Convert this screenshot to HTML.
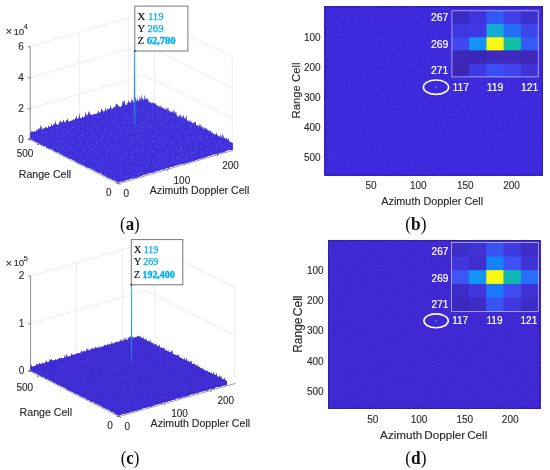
<!DOCTYPE html>
<html><head><meta charset="utf-8"><title>Figure</title>
<style>
html,body{margin:0;padding:0;background:#fff}
svg{display:block}
.tk{font-family:"Liberation Sans",Arial,sans-serif;font-size:10px;fill:#2b2b2b;stroke:#2b2b2b;stroke-width:0.12px}
.lb{font-family:"Liberation Sans",Arial,sans-serif;font-size:10.6px;fill:#2b2b2b;stroke:#2b2b2b;stroke-width:0.15px}
.dt{font-family:"Liberation Serif","DejaVu Serif",serif;fill:#111;stroke:#111;stroke-width:0.2px}
.cap{font-family:"Liberation Serif","DejaVu Serif",serif;font-size:19px;fill:#111}
</style></head><body>
<svg width="550" height="470" viewBox="0 0 550 470">
<defs>
<filter id="dota" x="0" y="0" width="100%" height="100%" color-interpolation-filters="sRGB"><feTurbulence type="fractalNoise" baseFrequency="0.8" numOctaves="1" seed="21"/><feColorMatrix type="matrix" values="0 0 0 0 0.43  0 0 0 0 0.41  0 0 0 0 0.91  3.2 0 0 0 -1.824"/></filter>
<filter id="dotc" x="0" y="0" width="100%" height="100%" color-interpolation-filters="sRGB"><feTurbulence type="fractalNoise" baseFrequency="0.8" numOctaves="1" seed="23"/><feColorMatrix type="matrix" values="0 0 0 0 0.38  0 0 0 0 0.34  0 0 0 0 0.89  2.5 0 0 0 -1.550"/></filter>
<filter id="spka" x="0" y="0" width="100%" height="100%" color-interpolation-filters="sRGB"><feTurbulence type="fractalNoise" baseFrequency="0.6" numOctaves="2" seed="3"/><feColorMatrix type="matrix" values="0.12 0 0 0 0.1900  0.15 0 0 0 0.1100  0.06 0 0 0 0.8300  0 0 0 0 1"/></filter>
<filter id="spkc" x="0" y="0" width="100%" height="100%" color-interpolation-filters="sRGB"><feTurbulence type="fractalNoise" baseFrequency="0.6" numOctaves="2" seed="5"/><feColorMatrix type="matrix" values="0.1 0 0 0 0.1980  0.12 0 0 0 0.1120  0.06 0 0 0 0.8000  0 0 0 0 1"/></filter>
<filter id="spkb" x="0" y="0" width="100%" height="100%" color-interpolation-filters="sRGB"><feTurbulence type="fractalNoise" baseFrequency="0.65" numOctaves="2" seed="11"/><feColorMatrix type="matrix" values="0.12 0 0 0 0.1800  0.14 0 0 0 0.0950  0.08 0 0 0 0.8220  0 0 0 0 1"/></filter>
<filter id="spkd" x="0" y="0" width="100%" height="100%" color-interpolation-filters="sRGB"><feTurbulence type="fractalNoise" baseFrequency="0.65" numOctaves="2" seed="13"/><feColorMatrix type="matrix" values="0.06 0 0 0 0.2200  0.08 0 0 0 0.1200  0.05 0 0 0 0.8000  0 0 0 0 1"/></filter>
</defs>
<rect width="550" height="470" fill="#fff"/>
<g id="panel-a">
<polyline points="30.2,139.4 143.9,106.2 232.3,149.7" fill="none" stroke="#e9e9e9" stroke-width="0.8"/>
<polyline points="30.2,108.5 143.9,75.3 232.3,118.8" fill="none" stroke="#e9e9e9" stroke-width="0.8"/>
<polyline points="30.2,77.6 143.9,44.4 232.3,87.9" fill="none" stroke="#e9e9e9" stroke-width="0.8"/>
<polyline points="30.2,46.5 143.9,13.3 232.3,56.8" fill="none" stroke="#e9e9e9" stroke-width="0.8"/>
<line x1="79.21" y1="125.09" x2="79.21" y2="32.19" stroke="#e9e9e9" stroke-width="0.8"/>
<line x1="128.22" y1="110.78" x2="128.22" y2="17.88" stroke="#e9e9e9" stroke-width="0.8"/>
<line x1="154.48" y1="111.41" x2="154.48" y2="18.51" stroke="#e9e9e9" stroke-width="0.8"/>
<line x1="232.3" y1="149.7" x2="232.3" y2="56.8" stroke="#e9e9e9" stroke-width="0.8"/>
<line x1="30.2" y1="139.4" x2="30.2" y2="46.5" stroke="#808080" stroke-width="0.9"/>
<line x1="27.8" y1="139.5" x2="30.2" y2="139.9" stroke="#6e6e6e" stroke-width="0.8"/>
<text x="23.8" y="142.9" text-anchor="end" class="tk">0</text>
<line x1="27.8" y1="108.6" x2="30.2" y2="109" stroke="#6e6e6e" stroke-width="0.8"/>
<text x="23.8" y="112" text-anchor="end" class="tk">2</text>
<line x1="27.8" y1="77.7" x2="30.2" y2="78.1" stroke="#6e6e6e" stroke-width="0.8"/>
<text x="23.8" y="81.1" text-anchor="end" class="tk">4</text>
<line x1="27.8" y1="46.6" x2="30.2" y2="47" stroke="#6e6e6e" stroke-width="0.8"/>
<text x="23.8" y="50" text-anchor="end" class="tk">6</text>
<text x="5.6" y="34.5" class="tk" style="font-size:9.8px;letter-spacing:-0.35px"><tspan font-size="11.5" dy="0.4">×</tspan><tspan dx="1.6" dy="-0.4">10</tspan><tspan dx="-0.3" dy="-5.1" font-size="7.8">4</tspan></text>
<polyline points="29.2,139.2 118.6,183.7 233.1,150.3" fill="none" stroke="#8c8c8c" stroke-width="0.85"/>
<line x1="38.96" y1="143.71" x2="36.76" y2="144.81" stroke="#5a5a5a" stroke-width="0.9"/>
<line x1="168.47" y1="168.34" x2="167.17" y2="170.74" stroke="#5a5a5a" stroke-width="0.9"/>
<line x1="218.34" y1="153.78" x2="217.04" y2="156.18" stroke="#5a5a5a" stroke-width="0.9"/>
<line x1="118.6" y1="182.9" x2="116.2" y2="183.9" stroke="#5a5a5a" stroke-width="0.9"/>
<line x1="118.6" y1="182.9" x2="120.2" y2="184.9" stroke="#5a5a5a" stroke-width="0.9"/>
<line x1="30.2" y1="139.4" x2="28" y2="138.6" stroke="#5a5a5a" stroke-width="0.9"/>
<clipPath id="cpa"><polygon points="30.2,139.4 30.2,132.66 30.7,133.16 31.21,130.42 31.71,132.9 32.21,130.99 32.71,132.33 33.22,132.31 33.72,131.74 34.22,132.02 34.72,131.62 35.23,131.71 35.73,131.72 36.24,130.47 36.74,129.75 37.24,131.08 37.74,131.05 38.25,128.55 38.75,128.57 39.26,128.65 39.76,130.22 40.26,124.19 40.76,130.26 41.27,125.39 41.77,129.8 42.27,129.58 42.77,129.65 43.28,128.9 43.78,127.74 44.29,128.94 44.79,128.31 45.29,126.4 45.79,128.5 46.3,126.8 46.8,128.49 47.31,128.19 47.81,128.13 48.31,125.17 48.81,127.52 49.32,127.12 49.82,126.83 50.32,126.2 50.82,127.14 51.33,123.17 51.83,125.87 52.34,126.45 52.84,125.98 53.34,124.89 53.84,124.53 54.35,122.95 54.85,125.98 55.35,119.73 55.85,125.83 56.36,124.62 56.86,124.17 57.37,125.17 57.87,124.74 58.37,124.97 58.87,123.92 59.38,121.13 59.88,123.93 60.39,119.61 60.89,124.19 61.39,121.21 61.89,123.28 62.4,121.87 62.9,123.34 63.4,119.14 63.9,121.25 64.41,121.97 64.91,122.17 65.42,122.9 65.92,121.74 66.42,120.17 66.92,120.1 67.43,118.17 67.93,122.17 68.44,121.25 68.94,120.98 69.44,121.74 69.94,121.27 70.45,121.32 70.95,121.42 71.45,121.14 71.95,119.72 72.46,120.79 72.96,120.74 73.47,119.76 73.97,118.68 74.47,120.25 74.97,119.83 75.48,118.26 75.98,118.03 76.48,115.56 76.98,117.83 77.49,119.01 77.99,119.02 78.5,118.43 79,117.14 79.5,112.98 80,118.76 80.51,118.37 81.01,118.41 81.52,117.96 82.02,117.69 82.52,115.92 83.02,117.79 83.53,117.63 84.03,117.25 84.53,116.62 85.03,116.6 85.54,111.28 86.04,115.91 86.55,115.26 87.05,115.86 87.55,113.75 88.05,116.45 88.56,111.09 89.06,114.68 89.57,111.1 90.07,114.31 90.57,114.75 91.07,115.23 91.58,115.23 92.08,114.34 92.58,114.97 93.08,114.98 93.59,114.49 94.09,114.64 94.6,113.8 95.1,114.39 95.6,114.1 96.1,114.06 96.61,113.77 97.11,113.53 97.62,113.51 98.12,111.61 98.62,111.03 99.12,113.18 99.63,112.62 100.13,112.68 100.63,111.94 101.13,112.61 101.64,107.88 102.14,109.82 102.65,110.85 103.15,111.53 103.65,111.72 104.15,111.74 104.66,110.85 105.16,111.32 105.66,106.93 106.16,111.12 106.67,110.87 107.17,108.58 107.68,109.01 108.18,110.54 108.68,108.61 109.18,110.28 109.69,108.42 110.19,107.55 110.7,105.06 111.2,108.54 111.7,109.07 112.2,109.12 112.71,108.98 113.21,107.66 113.71,107.21 114.21,107.34 114.72,107.96 115.22,108.43 115.73,104.18 116.23,105.75 116.73,103.43 117.23,106.34 117.74,103.52 118.24,106.32 118.75,107.1 119.25,106.74 119.75,106.39 120.25,107.05 120.76,106.76 121.26,106.6 121.76,106.14 122.26,105.32 122.77,100.37 123.27,105.73 123.78,100.33 124.28,103.38 124.78,99.8 125.28,105.3 125.79,105.06 126.29,105.19 126.79,104.82 127.29,104.92 127.8,102.43 128.3,102.67 128.81,100.04 129.31,103.9 129.81,101.61 130.31,102.55 130.82,103.79 131.32,102.79 131.83,98.33 132.33,102.03 132.83,99.83 133.33,102.73 133.84,102.79 134.34,101.42 134.84,102.08 135.34,101.07 135.85,96.34 136.35,102.02 136.86,101.2 137.36,99.79 137.86,98.61 138.36,101.71 138.87,101.4 139.37,101.43 139.88,96.04 140.38,99.58 140.88,100.79 141.38,99.2 141.89,94.46 142.39,99.57 142.89,99.66 143.39,99.61 143.9,99.93 144.4,100 144.9,94.5 145.4,99.5 145.91,99.43 146.41,98.79 146.91,100.46 147.41,99.59 147.92,97.77 148.42,101.89 148.92,102.16 149.42,102.3 149.93,102.69 150.43,102.17 150.93,103.13 151.43,103.08 151.94,103.88 152.44,101.87 152.94,103.8 153.44,103.99 153.95,102.99 154.45,102.89 154.95,104.49 155.45,103.32 155.95,104.53 156.45,105.29 156.96,104.89 157.46,106.43 157.96,105.87 158.46,106.86 158.97,107.41 159.47,105.85 159.97,107.78 160.47,107.41 160.98,105.25 161.48,107.7 161.98,108.35 162.48,108.29 162.99,107.64 163.49,107.89 163.99,109.84 164.49,109.17 165,110.08 165.5,110.23 166,107.25 166.5,110.3 167,109.57 167.5,109.97 168.01,106.63 168.51,111.44 169.01,110.18 169.51,111.79 170.02,111.38 170.52,111.71 171.02,112.23 171.52,112.7 172.03,112.58 172.53,111.6 173.03,111.42 173.53,112.42 174.04,109.22 174.54,114.7 175.04,113.54 175.54,113.07 176.05,111.46 176.55,115.79 177.05,116.25 177.55,115.89 178.05,116.79 178.55,116.7 179.06,117.28 179.56,116.24 180.06,114.05 180.56,115.78 181.07,118.18 181.57,117.06 182.07,116.22 182.57,118.75 183.08,114.41 183.58,116.9 184.08,119.54 184.58,117.47 185.09,119.42 185.59,119.74 186.09,114.5 186.59,119.05 187.1,121.14 187.6,120.85 188.1,120.26 188.6,121.51 189.1,122.07 189.6,122.04 190.11,119.61 190.61,122.74 191.11,121.49 191.61,122.81 192.12,123.73 192.62,123.5 193.12,121.95 193.62,123.63 194.13,124.7 194.63,122.24 195.13,121.42 195.63,122.81 196.14,125.66 196.64,125.57 197.14,126.19 197.64,124.72 198.15,126.33 198.65,126.66 199.15,126.23 199.65,125.1 200.15,123.56 200.65,127.55 201.16,128.08 201.66,126.05 202.16,126.81 202.66,127.5 203.17,129.13 203.67,129.16 204.17,126.85 204.67,129.27 205.18,130.13 205.68,127.93 206.18,128.3 206.68,129.07 207.19,131.11 207.69,129.32 208.19,131.62 208.69,129.79 209.2,131.01 209.7,131.89 210.2,130.89 210.7,130.46 211.2,132.77 211.7,133.09 212.21,132.05 212.71,133.5 213.21,134.06 213.71,134.06 214.22,134.59 214.72,134.53 215.22,134.6 215.72,134.91 216.23,132.1 216.73,135.42 217.23,134.69 217.73,136.03 218.24,135.96 218.74,136.58 219.24,136.77 219.74,137.07 220.25,134.34 220.75,136.88 221.25,137.9 221.75,137.57 222.25,133.04 222.75,138.54 223.26,134.93 223.76,138.65 224.26,138.18 224.76,137.83 225.27,139.22 225.77,139.47 226.27,137.73 226.77,138.07 227.28,140.42 227.78,139.32 228.28,138.54 228.78,140.58 229.29,141.14 229.79,141.77 230.29,142.5 230.79,142.48 231.3,142.99 231.8,141.68 232.3,143.18 232.8,143.45 232.9,146.6 232.6,149.7 230.78,150.07 229.27,149.83 227.75,150.24 226.24,150.87 224.72,151.66 223.2,152.14 221.69,152.53 220.17,152.83 218.66,153.54 217.14,153.73 215.62,154.33 214.11,154.15 212.59,154.58 211.08,155.4 209.56,156.12 208.04,155.91 206.53,156.95 205.01,157.35 203.5,158.11 201.98,158.21 200.46,158.57 198.95,158.99 197.43,159.7 195.92,159.87 194.4,160.76 192.88,160.97 191.37,161.57 189.85,161.74 188.34,162.5 186.82,162.96 185.3,163.15 183.79,163.66 182.27,163.78 180.76,164.27 179.24,164.52 177.72,165.04 176.21,165.43 174.69,165.73 173.18,166.61 171.66,167.11 170.14,166.96 168.63,168.16 167.11,168.08 165.6,168.6 164.08,169.58 162.56,169.31 161.05,169.7 159.53,170.38 158.02,170.73 156.5,171.1 154.98,172.15 153.47,172.25 151.95,172.71 150.44,172.85 148.92,173.32 147.4,173.75 145.89,174.41 144.37,174.57 142.86,175.2 141.34,175.64 139.82,176.5 138.31,177.12 136.79,177.47 135.28,177.71 133.76,178.38 132.24,178.16 130.73,178.86 129.21,179.24 127.7,179.68 126.18,180.07 124.66,180.69 123.15,181.57 121.63,181.3 120.12,181.78 118.6,182.6 117.08,181.7 115.55,180.92 114.03,180.06 112.5,179.84 110.98,178.49 109.46,178.17 107.93,177.58 106.41,176.66 104.88,175.49 103.36,175.22 101.83,173.98 100.31,173.02 98.79,172.71 97.26,172.06 95.74,171.22 94.21,170.28 92.69,169.46 91.17,168.84 89.64,168.07 88.12,167.83 86.59,167.02 85.07,166.17 83.54,164.98 82.02,164.63 80.5,163.64 78.97,163.39 77.45,162.6 75.92,161.66 74.4,160.55 72.88,159.78 71.35,159.04 69.83,158.64 68.3,157.69 66.78,156.98 65.26,156.23 63.73,155.79 62.21,154.35 60.68,154.22 59.16,152.77 57.63,152.06 56.11,152.13 54.59,150.99 53.06,149.91 51.54,149.03 50.01,148.75 48.49,148.16 46.97,147.46 45.44,146.05 43.92,145.96 42.39,144.88 40.87,144.52 39.34,143.43 37.82,142.29 36.3,142.28 34.77,140.91 33.25,140.44 31.72,139.35"/></clipPath>
<polygon points="30.2,139.4 30.2,132.66 30.7,133.16 31.21,130.42 31.71,132.9 32.21,130.99 32.71,132.33 33.22,132.31 33.72,131.74 34.22,132.02 34.72,131.62 35.23,131.71 35.73,131.72 36.24,130.47 36.74,129.75 37.24,131.08 37.74,131.05 38.25,128.55 38.75,128.57 39.26,128.65 39.76,130.22 40.26,124.19 40.76,130.26 41.27,125.39 41.77,129.8 42.27,129.58 42.77,129.65 43.28,128.9 43.78,127.74 44.29,128.94 44.79,128.31 45.29,126.4 45.79,128.5 46.3,126.8 46.8,128.49 47.31,128.19 47.81,128.13 48.31,125.17 48.81,127.52 49.32,127.12 49.82,126.83 50.32,126.2 50.82,127.14 51.33,123.17 51.83,125.87 52.34,126.45 52.84,125.98 53.34,124.89 53.84,124.53 54.35,122.95 54.85,125.98 55.35,119.73 55.85,125.83 56.36,124.62 56.86,124.17 57.37,125.17 57.87,124.74 58.37,124.97 58.87,123.92 59.38,121.13 59.88,123.93 60.39,119.61 60.89,124.19 61.39,121.21 61.89,123.28 62.4,121.87 62.9,123.34 63.4,119.14 63.9,121.25 64.41,121.97 64.91,122.17 65.42,122.9 65.92,121.74 66.42,120.17 66.92,120.1 67.43,118.17 67.93,122.17 68.44,121.25 68.94,120.98 69.44,121.74 69.94,121.27 70.45,121.32 70.95,121.42 71.45,121.14 71.95,119.72 72.46,120.79 72.96,120.74 73.47,119.76 73.97,118.68 74.47,120.25 74.97,119.83 75.48,118.26 75.98,118.03 76.48,115.56 76.98,117.83 77.49,119.01 77.99,119.02 78.5,118.43 79,117.14 79.5,112.98 80,118.76 80.51,118.37 81.01,118.41 81.52,117.96 82.02,117.69 82.52,115.92 83.02,117.79 83.53,117.63 84.03,117.25 84.53,116.62 85.03,116.6 85.54,111.28 86.04,115.91 86.55,115.26 87.05,115.86 87.55,113.75 88.05,116.45 88.56,111.09 89.06,114.68 89.57,111.1 90.07,114.31 90.57,114.75 91.07,115.23 91.58,115.23 92.08,114.34 92.58,114.97 93.08,114.98 93.59,114.49 94.09,114.64 94.6,113.8 95.1,114.39 95.6,114.1 96.1,114.06 96.61,113.77 97.11,113.53 97.62,113.51 98.12,111.61 98.62,111.03 99.12,113.18 99.63,112.62 100.13,112.68 100.63,111.94 101.13,112.61 101.64,107.88 102.14,109.82 102.65,110.85 103.15,111.53 103.65,111.72 104.15,111.74 104.66,110.85 105.16,111.32 105.66,106.93 106.16,111.12 106.67,110.87 107.17,108.58 107.68,109.01 108.18,110.54 108.68,108.61 109.18,110.28 109.69,108.42 110.19,107.55 110.7,105.06 111.2,108.54 111.7,109.07 112.2,109.12 112.71,108.98 113.21,107.66 113.71,107.21 114.21,107.34 114.72,107.96 115.22,108.43 115.73,104.18 116.23,105.75 116.73,103.43 117.23,106.34 117.74,103.52 118.24,106.32 118.75,107.1 119.25,106.74 119.75,106.39 120.25,107.05 120.76,106.76 121.26,106.6 121.76,106.14 122.26,105.32 122.77,100.37 123.27,105.73 123.78,100.33 124.28,103.38 124.78,99.8 125.28,105.3 125.79,105.06 126.29,105.19 126.79,104.82 127.29,104.92 127.8,102.43 128.3,102.67 128.81,100.04 129.31,103.9 129.81,101.61 130.31,102.55 130.82,103.79 131.32,102.79 131.83,98.33 132.33,102.03 132.83,99.83 133.33,102.73 133.84,102.79 134.34,101.42 134.84,102.08 135.34,101.07 135.85,96.34 136.35,102.02 136.86,101.2 137.36,99.79 137.86,98.61 138.36,101.71 138.87,101.4 139.37,101.43 139.88,96.04 140.38,99.58 140.88,100.79 141.38,99.2 141.89,94.46 142.39,99.57 142.89,99.66 143.39,99.61 143.9,99.93 144.4,100 144.9,94.5 145.4,99.5 145.91,99.43 146.41,98.79 146.91,100.46 147.41,99.59 147.92,97.77 148.42,101.89 148.92,102.16 149.42,102.3 149.93,102.69 150.43,102.17 150.93,103.13 151.43,103.08 151.94,103.88 152.44,101.87 152.94,103.8 153.44,103.99 153.95,102.99 154.45,102.89 154.95,104.49 155.45,103.32 155.95,104.53 156.45,105.29 156.96,104.89 157.46,106.43 157.96,105.87 158.46,106.86 158.97,107.41 159.47,105.85 159.97,107.78 160.47,107.41 160.98,105.25 161.48,107.7 161.98,108.35 162.48,108.29 162.99,107.64 163.49,107.89 163.99,109.84 164.49,109.17 165,110.08 165.5,110.23 166,107.25 166.5,110.3 167,109.57 167.5,109.97 168.01,106.63 168.51,111.44 169.01,110.18 169.51,111.79 170.02,111.38 170.52,111.71 171.02,112.23 171.52,112.7 172.03,112.58 172.53,111.6 173.03,111.42 173.53,112.42 174.04,109.22 174.54,114.7 175.04,113.54 175.54,113.07 176.05,111.46 176.55,115.79 177.05,116.25 177.55,115.89 178.05,116.79 178.55,116.7 179.06,117.28 179.56,116.24 180.06,114.05 180.56,115.78 181.07,118.18 181.57,117.06 182.07,116.22 182.57,118.75 183.08,114.41 183.58,116.9 184.08,119.54 184.58,117.47 185.09,119.42 185.59,119.74 186.09,114.5 186.59,119.05 187.1,121.14 187.6,120.85 188.1,120.26 188.6,121.51 189.1,122.07 189.6,122.04 190.11,119.61 190.61,122.74 191.11,121.49 191.61,122.81 192.12,123.73 192.62,123.5 193.12,121.95 193.62,123.63 194.13,124.7 194.63,122.24 195.13,121.42 195.63,122.81 196.14,125.66 196.64,125.57 197.14,126.19 197.64,124.72 198.15,126.33 198.65,126.66 199.15,126.23 199.65,125.1 200.15,123.56 200.65,127.55 201.16,128.08 201.66,126.05 202.16,126.81 202.66,127.5 203.17,129.13 203.67,129.16 204.17,126.85 204.67,129.27 205.18,130.13 205.68,127.93 206.18,128.3 206.68,129.07 207.19,131.11 207.69,129.32 208.19,131.62 208.69,129.79 209.2,131.01 209.7,131.89 210.2,130.89 210.7,130.46 211.2,132.77 211.7,133.09 212.21,132.05 212.71,133.5 213.21,134.06 213.71,134.06 214.22,134.59 214.72,134.53 215.22,134.6 215.72,134.91 216.23,132.1 216.73,135.42 217.23,134.69 217.73,136.03 218.24,135.96 218.74,136.58 219.24,136.77 219.74,137.07 220.25,134.34 220.75,136.88 221.25,137.9 221.75,137.57 222.25,133.04 222.75,138.54 223.26,134.93 223.76,138.65 224.26,138.18 224.76,137.83 225.27,139.22 225.77,139.47 226.27,137.73 226.77,138.07 227.28,140.42 227.78,139.32 228.28,138.54 228.78,140.58 229.29,141.14 229.79,141.77 230.29,142.5 230.79,142.48 231.3,142.99 231.8,141.68 232.3,143.18 232.8,143.45 232.9,146.6 232.6,149.7 230.78,150.07 229.27,149.83 227.75,150.24 226.24,150.87 224.72,151.66 223.2,152.14 221.69,152.53 220.17,152.83 218.66,153.54 217.14,153.73 215.62,154.33 214.11,154.15 212.59,154.58 211.08,155.4 209.56,156.12 208.04,155.91 206.53,156.95 205.01,157.35 203.5,158.11 201.98,158.21 200.46,158.57 198.95,158.99 197.43,159.7 195.92,159.87 194.4,160.76 192.88,160.97 191.37,161.57 189.85,161.74 188.34,162.5 186.82,162.96 185.3,163.15 183.79,163.66 182.27,163.78 180.76,164.27 179.24,164.52 177.72,165.04 176.21,165.43 174.69,165.73 173.18,166.61 171.66,167.11 170.14,166.96 168.63,168.16 167.11,168.08 165.6,168.6 164.08,169.58 162.56,169.31 161.05,169.7 159.53,170.38 158.02,170.73 156.5,171.1 154.98,172.15 153.47,172.25 151.95,172.71 150.44,172.85 148.92,173.32 147.4,173.75 145.89,174.41 144.37,174.57 142.86,175.2 141.34,175.64 139.82,176.5 138.31,177.12 136.79,177.47 135.28,177.71 133.76,178.38 132.24,178.16 130.73,178.86 129.21,179.24 127.7,179.68 126.18,180.07 124.66,180.69 123.15,181.57 121.63,181.3 120.12,181.78 118.6,182.6 117.08,181.7 115.55,180.92 114.03,180.06 112.5,179.84 110.98,178.49 109.46,178.17 107.93,177.58 106.41,176.66 104.88,175.49 103.36,175.22 101.83,173.98 100.31,173.02 98.79,172.71 97.26,172.06 95.74,171.22 94.21,170.28 92.69,169.46 91.17,168.84 89.64,168.07 88.12,167.83 86.59,167.02 85.07,166.17 83.54,164.98 82.02,164.63 80.5,163.64 78.97,163.39 77.45,162.6 75.92,161.66 74.4,160.55 72.88,159.78 71.35,159.04 69.83,158.64 68.3,157.69 66.78,156.98 65.26,156.23 63.73,155.79 62.21,154.35 60.68,154.22 59.16,152.77 57.63,152.06 56.11,152.13 54.59,150.99 53.06,149.91 51.54,149.03 50.01,148.75 48.49,148.16 46.97,147.46 45.44,146.05 43.92,145.96 42.39,144.88 40.87,144.52 39.34,143.43 37.82,142.29 36.3,142.28 34.77,140.91 33.25,140.44 31.72,139.35" fill="#3d30d0"/>
<rect x="28.2" y="92.46" width="206.7" height="92.14" fill="#fff" filter="url(#spka)" clip-path="url(#cpa)"/>
<rect x="28.2" y="92.46" width="206.7" height="92.14" fill="#fff" filter="url(#dota)" clip-path="url(#cpa)"/>
<rect x="133.85" y="51.5" width="1.4" height="83.5" fill="url(#pka)"/>
<linearGradient id="pka" gradientUnits="userSpaceOnUse" x1="0" y1="51.5" x2="0" y2="135"><stop offset="0" stop-color="#4ab4f2"/><stop offset="0.55" stop-color="#2490e6"/><stop offset="0.8" stop-color="#1f78dc"/><stop offset="1" stop-color="#3550d8" stop-opacity="0"/></linearGradient>
<text x="25" y="157" class="tk" text-anchor="middle">500</text>
<text x="108.9" y="195.6" class="tk" text-anchor="middle">0</text>
<text x="126.3" y="197" class="tk" text-anchor="middle">0</text>
<text x="181.9" y="183.5" class="tk" text-anchor="middle">100</text>
<text x="230.5" y="168.7" class="tk" text-anchor="middle">200</text>
<text x="18.8" y="177.6" class="lb" text-anchor="start">Range Cell</text>
<text x="149.8" y="193.8" class="lb" text-anchor="start">Azimuth Doppler Cell</text>
<rect x="134.8" y="6.1" width="53.1" height="44.9" fill="#fff" stroke="#777" stroke-width="1"/>
<rect x="133.9" y="50.1" width="1.8" height="1.8" fill="#444"/>
<text x="137.5" y="19.7" class="dt" font-size="10.7">X <tspan fill="#00aeef" stroke="#00aeef" stroke-width="0.25">119</tspan></text>
<text x="137.5" y="31.9" class="dt" font-size="10.7">Y <tspan fill="#00aeef" stroke="#00aeef" stroke-width="0.25">269</tspan></text>
<text x="137.5" y="44.3" class="dt" font-size="10.7">Z <tspan fill="#00aeef" font-weight="bold" stroke="#00aeef" stroke-width="0.35" letter-spacing="-0.1">62,780</tspan></text>
</g>
<g id="panel-b">
<rect x="324.9" y="6.6" width="217.8" height="168.9" fill="#3d30d0"/>
<rect x="324.9" y="6.6" width="217.8" height="168.9" fill="#fff" filter="url(#spkb)"/>
<rect x="325.3" y="7" width="217" height="168.1" fill="none" stroke="#1c1470" stroke-opacity="0.55" stroke-width="0.8"/>
<text x="320.6" y="41" class="tk" text-anchor="end">100</text>
<line x1="324.9" y1="37.6" x2="326.9" y2="37.6" stroke="#2a2390" stroke-width="0.6"/>
<text x="320.6" y="70.7" class="tk" text-anchor="end">200</text>
<line x1="324.9" y1="67.3" x2="326.9" y2="67.3" stroke="#2a2390" stroke-width="0.6"/>
<text x="320.6" y="100.6" class="tk" text-anchor="end">300</text>
<line x1="324.9" y1="97.2" x2="326.9" y2="97.2" stroke="#2a2390" stroke-width="0.6"/>
<text x="320.6" y="130.7" class="tk" text-anchor="end">400</text>
<line x1="324.9" y1="127.3" x2="326.9" y2="127.3" stroke="#2a2390" stroke-width="0.6"/>
<text x="320.6" y="160.8" class="tk" text-anchor="end">500</text>
<line x1="324.9" y1="157.4" x2="326.9" y2="157.4" stroke="#2a2390" stroke-width="0.6"/>
<text x="371.1" y="189.1" class="tk" text-anchor="middle">50</text>
<line x1="371.1" y1="175.5" x2="371.1" y2="173.5" stroke="#2a2390" stroke-width="0.6"/>
<text x="418.3" y="189.1" class="tk" text-anchor="middle">100</text>
<line x1="418.3" y1="175.5" x2="418.3" y2="173.5" stroke="#2a2390" stroke-width="0.6"/>
<text x="465.3" y="189.1" class="tk" text-anchor="middle">150</text>
<line x1="465.3" y1="175.5" x2="465.3" y2="173.5" stroke="#2a2390" stroke-width="0.6"/>
<text x="511.6" y="189.1" class="tk" text-anchor="middle">200</text>
<line x1="511.6" y1="175.5" x2="511.6" y2="173.5" stroke="#2a2390" stroke-width="0.6"/>
<text transform="translate(300.3,90.45) rotate(-90)" class="lb" style="font-size:11.3px;word-spacing:0px" text-anchor="middle">Range Cell</text>
<text x="432.2" y="205.2" class="lb" style="font-size:10.85px;word-spacing:0px" text-anchor="middle">Azimuth Doppler Cell</text>
<rect x="451.9" y="10.8" width="17.56" height="13.52" fill="#3a2ac8"/>
<rect x="469.16" y="10.8" width="17.56" height="13.52" fill="#4034dc"/>
<rect x="486.42" y="10.8" width="17.56" height="13.52" fill="#3059f5"/>
<rect x="503.68" y="10.8" width="17.56" height="13.52" fill="#403ee6"/>
<rect x="520.94" y="10.8" width="17.56" height="13.52" fill="#3c30cd"/>
<rect x="451.9" y="24.02" width="17.56" height="13.52" fill="#3e38e1"/>
<rect x="469.16" y="24.02" width="17.56" height="13.52" fill="#4038e4"/>
<rect x="486.42" y="24.02" width="17.56" height="13.52" fill="#16aad7"/>
<rect x="503.68" y="24.02" width="17.56" height="13.52" fill="#246efa"/>
<rect x="520.94" y="24.02" width="17.56" height="13.52" fill="#3e46eb"/>
<rect x="451.9" y="37.24" width="17.56" height="13.52" fill="#4048ee"/>
<rect x="469.16" y="37.24" width="17.56" height="13.52" fill="#1494f5"/>
<rect x="486.42" y="37.24" width="17.56" height="13.52" fill="#faf914"/>
<rect x="503.68" y="37.24" width="17.56" height="13.52" fill="#12bea5"/>
<rect x="520.94" y="37.24" width="17.56" height="13.52" fill="#345af5"/>
<rect x="451.9" y="50.46" width="17.56" height="13.52" fill="#3e28b9"/>
<rect x="469.16" y="50.46" width="17.56" height="13.52" fill="#3c26b6"/>
<rect x="486.42" y="50.46" width="17.56" height="13.52" fill="#3e2abe"/>
<rect x="503.68" y="50.46" width="17.56" height="13.52" fill="#3e2abe"/>
<rect x="520.94" y="50.46" width="17.56" height="13.52" fill="#3e28b9"/>
<rect x="451.9" y="63.68" width="17.56" height="13.52" fill="#3c26b4"/>
<rect x="469.16" y="63.68" width="17.56" height="13.52" fill="#403ae4"/>
<rect x="486.42" y="63.68" width="17.56" height="13.52" fill="#3c4ef5"/>
<rect x="503.68" y="63.68" width="17.56" height="13.52" fill="#4044ec"/>
<rect x="520.94" y="63.68" width="17.56" height="13.52" fill="#3e34d7"/>
<rect x="451.9" y="10.8" width="86.3" height="66.1" fill="none" stroke="#fff" stroke-opacity="0.75" stroke-width="0.7"/>
<text x="448.3" y="21" class="tk" style="fill:#fff;stroke:#fff;stroke-width:0.2px;font-size:10.4px" text-anchor="end">267</text>
<text x="448.3" y="47.8" class="tk" style="fill:#fff;stroke:#fff;stroke-width:0.2px;font-size:10.4px" text-anchor="end">269</text>
<text x="448.3" y="73.6" class="tk" style="fill:#fff;stroke:#fff;stroke-width:0.2px;font-size:10.4px" text-anchor="end">271</text>
<text x="460.7" y="90.7" class="tk" style="fill:#fff;stroke:#fff;stroke-width:0.2px;font-size:10.4px" text-anchor="middle">117</text>
<text x="495" y="90.7" class="tk" style="fill:#fff;stroke:#fff;stroke-width:0.2px;font-size:10.4px" text-anchor="middle">119</text>
<text x="529.7" y="90.7" class="tk" style="fill:#fff;stroke:#fff;stroke-width:0.2px;font-size:10.4px" text-anchor="middle">121</text>
<ellipse cx="436" cy="87.2" rx="12.6" ry="7.2" fill="none" stroke="#fff" stroke-width="1.6"/>
<rect x="435.1" y="86.3" width="1.8" height="1.8" fill="#2a86f0"/>
</g>
<g id="panel-c">
<polyline points="30.6,371.1 146.4,338.1 234.7,382.8" fill="none" stroke="#e9e9e9" stroke-width="0.8"/>
<polyline points="30.6,323.5 146.4,290.5 234.7,335.2" fill="none" stroke="#e9e9e9" stroke-width="0.8"/>
<polyline points="30.6,275.9 146.4,242.9 234.7,287.6" fill="none" stroke="#e9e9e9" stroke-width="0.8"/>
<line x1="76.55" y1="358" x2="76.55" y2="262.8" stroke="#e9e9e9" stroke-width="0.8"/>
<line x1="122.5" y1="344.91" x2="122.5" y2="249.71" stroke="#e9e9e9" stroke-width="0.8"/>
<line x1="155.15" y1="342.53" x2="155.15" y2="247.33" stroke="#e9e9e9" stroke-width="0.8"/>
<line x1="234.7" y1="382.8" x2="234.7" y2="287.6" stroke="#e9e9e9" stroke-width="0.8"/>
<line x1="30.6" y1="371.1" x2="30.6" y2="275.9" stroke="#808080" stroke-width="0.9"/>
<line x1="28.2" y1="371.2" x2="30.6" y2="371.6" stroke="#6e6e6e" stroke-width="0.8"/>
<text x="24.2" y="374.1" text-anchor="end" class="tk">0</text>
<line x1="28.2" y1="323.6" x2="30.6" y2="324" stroke="#6e6e6e" stroke-width="0.8"/>
<text x="24.2" y="326.5" text-anchor="end" class="tk">1</text>
<line x1="28.2" y1="276" x2="30.6" y2="276.4" stroke="#6e6e6e" stroke-width="0.8"/>
<text x="24.2" y="278.9" text-anchor="end" class="tk">2</text>
<text x="5.6" y="266.3" class="tk" style="font-size:9.8px;letter-spacing:-0.35px"><tspan font-size="11.5" dy="0.4">×</tspan><tspan dx="1.6" dy="-0.4">10</tspan><tspan dx="-0.3" dy="-5.1" font-size="7.8">5</tspan></text>
<polyline points="29.6,370.9 118.9,416.6 235.5,383.4" fill="none" stroke="#8c8c8c" stroke-width="0.85"/>
<line x1="39.35" y1="375.53" x2="37.15" y2="376.63" stroke="#5a5a5a" stroke-width="0.9"/>
<line x1="165.22" y1="402.6" x2="164.02" y2="404.8" stroke="#5a5a5a" stroke-width="0.9"/>
<line x1="211.54" y1="389.4" x2="210.34" y2="391.6" stroke="#5a5a5a" stroke-width="0.9"/>
<line x1="118.9" y1="415.8" x2="116.5" y2="416.8" stroke="#5a5a5a" stroke-width="0.9"/>
<line x1="118.9" y1="415.8" x2="120.5" y2="417.8" stroke="#5a5a5a" stroke-width="0.9"/>
<line x1="30.6" y1="371.1" x2="28.4" y2="370.3" stroke="#5a5a5a" stroke-width="0.9"/>
<clipPath id="cpc"><polygon points="30.6,371.1 30.6,365.74 31.1,367.34 31.6,364.27 32.1,366.82 32.61,366.83 33.11,366.83 33.61,365.79 34.11,366.29 34.62,366 35.12,366.24 35.62,365.62 36.12,365.85 36.63,363.23 37.13,365.68 37.63,363.48 38.13,364.42 38.63,365.08 39.13,363.89 39.64,363.11 40.14,363.68 40.64,364.3 41.14,364.37 41.65,363.79 42.15,362.82 42.65,362.84 43.15,363.81 43.66,363.12 44.16,363.6 44.66,363.39 45.16,363.38 45.66,360.69 46.16,363.02 46.67,359.71 47.17,362.75 47.67,362.34 48.17,362.21 48.68,362.16 49.18,362.08 49.68,358.7 50.18,360.86 50.69,359.4 51.19,361.15 51.69,358.44 52.19,360.13 52.7,360.14 53.2,360.41 53.7,360.81 54.2,360.09 54.7,359.91 55.2,359.76 55.71,358.88 56.21,360.15 56.71,359.95 57.21,358.74 57.72,359.63 58.22,359.4 58.72,359.04 59.22,359.29 59.73,357.25 60.23,357.73 60.73,358.63 61.23,358.24 61.73,358.27 62.23,358.13 62.74,357.78 63.24,358.21 63.74,357.89 64.24,357.91 64.75,354.77 65.25,357.36 65.75,357.25 66.25,356.22 66.76,353.52 67.26,356.85 67.76,356.76 68.26,356.77 68.76,356.51 69.26,356.39 69.77,356.22 70.27,356.18 70.77,355.77 71.27,355.53 71.78,352.9 72.28,354.9 72.78,354.87 73.28,355.17 73.79,354.22 74.29,354.92 74.79,354.48 75.29,354.8 75.79,354.31 76.29,353.18 76.8,354.2 77.3,353.92 77.8,352.65 78.3,352.91 78.81,353.54 79.31,353.58 79.81,353.21 80.31,353.18 80.82,352.48 81.32,351.79 81.82,350.29 82.32,351.74 82.82,352.52 83.32,352.52 83.83,350.54 84.33,351.1 84.83,351.25 85.33,351.5 85.84,351.66 86.34,351.48 86.84,348.33 87.34,350.43 87.85,348.53 88.35,349.73 88.85,350.63 89.35,350.79 89.85,350.45 90.35,350.17 90.86,348.68 91.36,348.97 91.86,348.18 92.36,349.39 92.87,347.66 93.37,349.4 93.87,348.4 94.37,349.37 94.88,346.99 95.38,349.02 95.88,345.8 96.38,348.25 96.89,348.25 97.39,348.49 97.89,348.05 98.39,347.69 98.89,346.3 99.39,347.93 99.9,347.64 100.4,347.3 100.9,346.27 101.4,347.19 101.91,346.95 102.41,346.61 102.91,346.79 103.41,346.69 103.92,345.85 104.42,345.19 104.92,344.85 105.42,345.12 105.92,345.23 106.42,345.88 106.93,345.48 107.43,344.33 107.93,343.7 108.43,345.25 108.94,345.08 109.44,344.76 109.94,343.28 110.44,344.58 110.95,344.32 111.45,343.91 111.95,341.18 112.45,344.16 112.95,343.93 113.45,343.8 113.96,343.11 114.46,343.02 114.96,343.26 115.46,342.48 115.97,341.22 116.47,342.75 116.97,342.68 117.47,341.44 117.98,342.22 118.48,341.57 118.98,342.07 119.48,342.16 119.98,339.96 120.48,341.83 120.99,338.41 121.49,341.33 121.99,341.26 122.49,341.3 123,340.54 123.5,340.48 124,337.58 124.5,340.76 125.01,340.03 125.51,340.45 126.01,336.81 126.51,340.19 127.01,339.92 127.51,339.92 128.02,339.18 128.52,338.5 129.02,336.61 129.52,338.63 130.03,335.49 130.53,337.83 131.03,338.47 131.53,338.74 132.04,335.38 132.54,337.74 133.04,338.21 133.54,337.62 134.05,337.5 134.55,337.76 135.05,337.32 135.55,337.61 136.05,337.35 136.55,337.26 137.06,336.7 137.56,335.76 138.06,336.74 138.56,335.45 139.07,337.17 139.57,337.13 140.07,335.46 140.57,336.86 141.07,337.73 141.57,338.3 142.08,338.11 142.58,338.64 143.08,336.32 143.58,339.28 144.08,339.43 144.58,338.69 145.09,340.33 145.59,340.13 146.09,338.56 146.59,340.04 147.09,341.34 147.59,341.35 148.1,341.85 148.6,340.66 149.1,342.18 149.6,341.6 150.1,340.03 150.6,342.74 151.11,343.17 151.61,342.07 152.11,342.64 152.61,343.81 153.11,342.67 153.61,344.28 154.12,344.69 154.62,344.9 155.12,343.47 155.62,344.22 156.12,344.6 156.62,344.65 157.13,346.43 157.63,346.37 158.13,346.23 158.63,345.63 159.13,344.2 159.63,347.27 160.14,347.78 160.64,347.73 161.14,347.7 161.64,347.24 162.14,348.88 162.64,348.08 163.15,347.63 163.65,348.54 164.15,347.94 164.65,349.5 165.15,350.18 165.65,350.37 166.16,350.61 166.66,350.16 167.16,351.49 167.66,351.47 168.16,350.09 168.66,351.95 169.17,352.51 169.67,352.52 170.17,352.05 170.67,352.91 171.17,350.09 171.67,352.44 172.18,350.54 172.68,353.97 173.18,354.54 173.68,354.55 174.19,354.28 174.69,354.38 175.19,354.96 175.69,355.51 176.19,355.55 176.69,355.57 177.2,355.07 177.7,355.83 178.2,354.6 178.7,356.51 179.2,357.57 179.7,356.62 180.21,357.87 180.71,357.7 181.21,358.21 181.71,357.88 182.21,359.02 182.71,359.06 183.22,359.47 183.72,359.61 184.22,357.4 184.72,359.71 185.22,360.34 185.72,360.46 186.23,357.62 186.73,360.83 187.23,361.52 187.73,360.76 188.23,360.76 188.73,360.76 189.24,362.66 189.74,362.4 190.24,360.87 190.74,362.21 191.24,360.74 191.74,363.7 192.25,363.96 192.75,364.19 193.25,364.62 193.75,363.36 194.25,364.12 194.75,363.99 195.26,365.32 195.76,364.68 196.26,365.62 196.76,366.16 197.26,364.67 197.76,365.47 198.27,367.23 198.77,366.79 199.27,366.5 199.77,367.71 200.27,367.87 200.77,368.25 201.28,368.67 201.78,368.71 202.28,368.12 202.78,368.72 203.28,369.68 203.78,369.79 204.29,369.99 204.79,369.69 205.29,370.72 205.79,370.7 206.29,371.21 206.79,370.45 207.3,370.87 207.8,371.82 208.3,372.31 208.8,372.15 209.3,371.87 209.8,372.3 210.31,373.33 210.81,373.32 211.31,372.24 211.81,373.65 212.31,374.14 212.81,374.26 213.32,371.63 213.82,374.76 214.32,374.35 214.82,375.23 215.32,375.36 215.82,374.84 216.33,372.82 216.83,376.24 217.33,376.8 217.83,376.19 218.34,377.3 218.84,377.41 219.34,375.05 219.84,377.7 220.34,376.1 220.84,378.23 221.35,376.2 221.85,378.67 222.35,379.38 222.85,379.44 223.35,378.98 223.85,379.41 224.36,377.54 224.86,380.45 225.36,379.7 225.86,380.81 226.36,380.68 226.86,381.46 226.96,383.33 226.66,385.18 224.85,385.35 223.34,385.57 221.82,385.64 220.31,386.8 218.79,386.89 217.28,387.04 215.77,387.33 214.25,388.45 212.74,388.94 211.23,388.64 209.71,389.04 208.2,389.92 206.69,390.74 205.17,390.38 203.66,391.3 202.15,391.26 200.63,391.95 199.12,392.2 197.6,393.23 196.09,393.1 194.58,394.03 193.06,394.3 191.55,394.33 190.04,394.78 188.52,395.79 187.01,396.19 185.5,396.46 183.98,396.79 182.47,397.34 180.96,398 179.44,398.32 177.93,398.33 176.42,398.6 174.9,399.8 173.39,399.77 171.87,400.02 170.36,401.1 168.85,400.81 167.33,401.89 165.82,401.89 164.31,402.37 162.79,402.73 161.28,403.45 159.77,403.78 158.25,404.06 156.74,404.63 155.23,404.86 153.71,405.48 152.2,405.92 150.68,406.72 149.17,406.62 147.66,407.16 146.14,407.82 144.63,407.78 143.12,408.2 141.6,408.92 140.09,409.6 138.58,409.77 137.06,410.53 135.55,410.94 134.04,411.1 132.52,411.84 131.01,411.95 129.49,412.32 127.98,413.18 126.47,413.07 124.95,414 123.44,413.85 121.93,414.24 120.41,414.91 118.9,415.5 117.38,414.98 115.86,413.81 114.33,413.15 112.81,411.86 111.29,411.82 109.77,410.4 108.24,409.51 106.72,408.98 105.2,408.13 103.68,407.92 102.15,406.44 100.63,406.11 99.11,404.92 97.59,404.19 96.06,404.09 94.54,402.76 93.02,401.86 91.5,401.87 89.97,400.84 88.45,399.71 86.93,399.47 85.41,398.04 83.88,397.83 82.36,396.57 80.84,396.4 79.32,395.31 77.79,394.16 76.27,394.03 74.75,393.21 73.23,392.22 71.71,391.62 70.18,391.1 68.66,390.2 67.14,389.45 65.62,387.98 64.09,387.44 62.57,386.48 61.05,386.36 59.53,385.04 58,384.87 56.48,383.72 54.96,382.86 53.44,382.34 51.91,381.1 50.39,380.62 48.87,379.83 47.35,378.78 45.82,378.71 44.3,377.14 42.78,376.7 41.26,376.14 39.73,375.01 38.21,374.72 36.69,373.29 35.17,372.89 33.64,372.32 32.12,371.18"/></clipPath>
<polygon points="30.6,371.1 30.6,365.74 31.1,367.34 31.6,364.27 32.1,366.82 32.61,366.83 33.11,366.83 33.61,365.79 34.11,366.29 34.62,366 35.12,366.24 35.62,365.62 36.12,365.85 36.63,363.23 37.13,365.68 37.63,363.48 38.13,364.42 38.63,365.08 39.13,363.89 39.64,363.11 40.14,363.68 40.64,364.3 41.14,364.37 41.65,363.79 42.15,362.82 42.65,362.84 43.15,363.81 43.66,363.12 44.16,363.6 44.66,363.39 45.16,363.38 45.66,360.69 46.16,363.02 46.67,359.71 47.17,362.75 47.67,362.34 48.17,362.21 48.68,362.16 49.18,362.08 49.68,358.7 50.18,360.86 50.69,359.4 51.19,361.15 51.69,358.44 52.19,360.13 52.7,360.14 53.2,360.41 53.7,360.81 54.2,360.09 54.7,359.91 55.2,359.76 55.71,358.88 56.21,360.15 56.71,359.95 57.21,358.74 57.72,359.63 58.22,359.4 58.72,359.04 59.22,359.29 59.73,357.25 60.23,357.73 60.73,358.63 61.23,358.24 61.73,358.27 62.23,358.13 62.74,357.78 63.24,358.21 63.74,357.89 64.24,357.91 64.75,354.77 65.25,357.36 65.75,357.25 66.25,356.22 66.76,353.52 67.26,356.85 67.76,356.76 68.26,356.77 68.76,356.51 69.26,356.39 69.77,356.22 70.27,356.18 70.77,355.77 71.27,355.53 71.78,352.9 72.28,354.9 72.78,354.87 73.28,355.17 73.79,354.22 74.29,354.92 74.79,354.48 75.29,354.8 75.79,354.31 76.29,353.18 76.8,354.2 77.3,353.92 77.8,352.65 78.3,352.91 78.81,353.54 79.31,353.58 79.81,353.21 80.31,353.18 80.82,352.48 81.32,351.79 81.82,350.29 82.32,351.74 82.82,352.52 83.32,352.52 83.83,350.54 84.33,351.1 84.83,351.25 85.33,351.5 85.84,351.66 86.34,351.48 86.84,348.33 87.34,350.43 87.85,348.53 88.35,349.73 88.85,350.63 89.35,350.79 89.85,350.45 90.35,350.17 90.86,348.68 91.36,348.97 91.86,348.18 92.36,349.39 92.87,347.66 93.37,349.4 93.87,348.4 94.37,349.37 94.88,346.99 95.38,349.02 95.88,345.8 96.38,348.25 96.89,348.25 97.39,348.49 97.89,348.05 98.39,347.69 98.89,346.3 99.39,347.93 99.9,347.64 100.4,347.3 100.9,346.27 101.4,347.19 101.91,346.95 102.41,346.61 102.91,346.79 103.41,346.69 103.92,345.85 104.42,345.19 104.92,344.85 105.42,345.12 105.92,345.23 106.42,345.88 106.93,345.48 107.43,344.33 107.93,343.7 108.43,345.25 108.94,345.08 109.44,344.76 109.94,343.28 110.44,344.58 110.95,344.32 111.45,343.91 111.95,341.18 112.45,344.16 112.95,343.93 113.45,343.8 113.96,343.11 114.46,343.02 114.96,343.26 115.46,342.48 115.97,341.22 116.47,342.75 116.97,342.68 117.47,341.44 117.98,342.22 118.48,341.57 118.98,342.07 119.48,342.16 119.98,339.96 120.48,341.83 120.99,338.41 121.49,341.33 121.99,341.26 122.49,341.3 123,340.54 123.5,340.48 124,337.58 124.5,340.76 125.01,340.03 125.51,340.45 126.01,336.81 126.51,340.19 127.01,339.92 127.51,339.92 128.02,339.18 128.52,338.5 129.02,336.61 129.52,338.63 130.03,335.49 130.53,337.83 131.03,338.47 131.53,338.74 132.04,335.38 132.54,337.74 133.04,338.21 133.54,337.62 134.05,337.5 134.55,337.76 135.05,337.32 135.55,337.61 136.05,337.35 136.55,337.26 137.06,336.7 137.56,335.76 138.06,336.74 138.56,335.45 139.07,337.17 139.57,337.13 140.07,335.46 140.57,336.86 141.07,337.73 141.57,338.3 142.08,338.11 142.58,338.64 143.08,336.32 143.58,339.28 144.08,339.43 144.58,338.69 145.09,340.33 145.59,340.13 146.09,338.56 146.59,340.04 147.09,341.34 147.59,341.35 148.1,341.85 148.6,340.66 149.1,342.18 149.6,341.6 150.1,340.03 150.6,342.74 151.11,343.17 151.61,342.07 152.11,342.64 152.61,343.81 153.11,342.67 153.61,344.28 154.12,344.69 154.62,344.9 155.12,343.47 155.62,344.22 156.12,344.6 156.62,344.65 157.13,346.43 157.63,346.37 158.13,346.23 158.63,345.63 159.13,344.2 159.63,347.27 160.14,347.78 160.64,347.73 161.14,347.7 161.64,347.24 162.14,348.88 162.64,348.08 163.15,347.63 163.65,348.54 164.15,347.94 164.65,349.5 165.15,350.18 165.65,350.37 166.16,350.61 166.66,350.16 167.16,351.49 167.66,351.47 168.16,350.09 168.66,351.95 169.17,352.51 169.67,352.52 170.17,352.05 170.67,352.91 171.17,350.09 171.67,352.44 172.18,350.54 172.68,353.97 173.18,354.54 173.68,354.55 174.19,354.28 174.69,354.38 175.19,354.96 175.69,355.51 176.19,355.55 176.69,355.57 177.2,355.07 177.7,355.83 178.2,354.6 178.7,356.51 179.2,357.57 179.7,356.62 180.21,357.87 180.71,357.7 181.21,358.21 181.71,357.88 182.21,359.02 182.71,359.06 183.22,359.47 183.72,359.61 184.22,357.4 184.72,359.71 185.22,360.34 185.72,360.46 186.23,357.62 186.73,360.83 187.23,361.52 187.73,360.76 188.23,360.76 188.73,360.76 189.24,362.66 189.74,362.4 190.24,360.87 190.74,362.21 191.24,360.74 191.74,363.7 192.25,363.96 192.75,364.19 193.25,364.62 193.75,363.36 194.25,364.12 194.75,363.99 195.26,365.32 195.76,364.68 196.26,365.62 196.76,366.16 197.26,364.67 197.76,365.47 198.27,367.23 198.77,366.79 199.27,366.5 199.77,367.71 200.27,367.87 200.77,368.25 201.28,368.67 201.78,368.71 202.28,368.12 202.78,368.72 203.28,369.68 203.78,369.79 204.29,369.99 204.79,369.69 205.29,370.72 205.79,370.7 206.29,371.21 206.79,370.45 207.3,370.87 207.8,371.82 208.3,372.31 208.8,372.15 209.3,371.87 209.8,372.3 210.31,373.33 210.81,373.32 211.31,372.24 211.81,373.65 212.31,374.14 212.81,374.26 213.32,371.63 213.82,374.76 214.32,374.35 214.82,375.23 215.32,375.36 215.82,374.84 216.33,372.82 216.83,376.24 217.33,376.8 217.83,376.19 218.34,377.3 218.84,377.41 219.34,375.05 219.84,377.7 220.34,376.1 220.84,378.23 221.35,376.2 221.85,378.67 222.35,379.38 222.85,379.44 223.35,378.98 223.85,379.41 224.36,377.54 224.86,380.45 225.36,379.7 225.86,380.81 226.36,380.68 226.86,381.46 226.96,383.33 226.66,385.18 224.85,385.35 223.34,385.57 221.82,385.64 220.31,386.8 218.79,386.89 217.28,387.04 215.77,387.33 214.25,388.45 212.74,388.94 211.23,388.64 209.71,389.04 208.2,389.92 206.69,390.74 205.17,390.38 203.66,391.3 202.15,391.26 200.63,391.95 199.12,392.2 197.6,393.23 196.09,393.1 194.58,394.03 193.06,394.3 191.55,394.33 190.04,394.78 188.52,395.79 187.01,396.19 185.5,396.46 183.98,396.79 182.47,397.34 180.96,398 179.44,398.32 177.93,398.33 176.42,398.6 174.9,399.8 173.39,399.77 171.87,400.02 170.36,401.1 168.85,400.81 167.33,401.89 165.82,401.89 164.31,402.37 162.79,402.73 161.28,403.45 159.77,403.78 158.25,404.06 156.74,404.63 155.23,404.86 153.71,405.48 152.2,405.92 150.68,406.72 149.17,406.62 147.66,407.16 146.14,407.82 144.63,407.78 143.12,408.2 141.6,408.92 140.09,409.6 138.58,409.77 137.06,410.53 135.55,410.94 134.04,411.1 132.52,411.84 131.01,411.95 129.49,412.32 127.98,413.18 126.47,413.07 124.95,414 123.44,413.85 121.93,414.24 120.41,414.91 118.9,415.5 117.38,414.98 115.86,413.81 114.33,413.15 112.81,411.86 111.29,411.82 109.77,410.4 108.24,409.51 106.72,408.98 105.2,408.13 103.68,407.92 102.15,406.44 100.63,406.11 99.11,404.92 97.59,404.19 96.06,404.09 94.54,402.76 93.02,401.86 91.5,401.87 89.97,400.84 88.45,399.71 86.93,399.47 85.41,398.04 83.88,397.83 82.36,396.57 80.84,396.4 79.32,395.31 77.79,394.16 76.27,394.03 74.75,393.21 73.23,392.22 71.71,391.62 70.18,391.1 68.66,390.2 67.14,389.45 65.62,387.98 64.09,387.44 62.57,386.48 61.05,386.36 59.53,385.04 58,384.87 56.48,383.72 54.96,382.86 53.44,382.34 51.91,381.1 50.39,380.62 48.87,379.83 47.35,378.78 45.82,378.71 44.3,377.14 42.78,376.7 41.26,376.14 39.73,375.01 38.21,374.72 36.69,373.29 35.17,372.89 33.64,372.32 32.12,371.18" fill="#3d30d0"/>
<rect x="28.6" y="333.38" width="200.36" height="84.12" fill="#fff" filter="url(#spkc)" clip-path="url(#cpc)"/>
<rect x="28.6" y="333.38" width="200.36" height="84.12" fill="#fff" filter="url(#dotc)" clip-path="url(#cpc)"/>
<rect x="130.98" y="285.2" width="1.15" height="87.8" fill="url(#pkc)"/>
<linearGradient id="pkc" gradientUnits="userSpaceOnUse" x1="0" y1="285.2" x2="0" y2="373"><stop offset="0" stop-color="#4ab4f2"/><stop offset="0.55" stop-color="#2490e6"/><stop offset="0.8" stop-color="#1f78dc"/><stop offset="1" stop-color="#3550d8" stop-opacity="0"/></linearGradient>
<text x="24.8" y="390.8" class="tk" text-anchor="middle">500</text>
<text x="110" y="429" class="tk" text-anchor="middle">0</text>
<text x="127.4" y="430.1" class="tk" text-anchor="middle">0</text>
<text x="179.6" y="416.8" class="tk" text-anchor="middle">100</text>
<text x="225.8" y="403.8" class="tk" text-anchor="middle">200</text>
<text x="19.6" y="416.4" class="lb" text-anchor="start">Range Cell</text>
<text x="150.6" y="427.1" class="lb" text-anchor="start">Azimuth Doppler Cell</text>
<rect x="131.3" y="239.6" width="51.5" height="45.2" fill="#fff" stroke="#777" stroke-width="1"/>
<rect x="130.4" y="283.9" width="1.8" height="1.8" fill="#444"/>
<text x="134" y="252.5" class="dt" font-size="10.0">X <tspan fill="#00aeef" stroke="#00aeef" stroke-width="0.25">119</tspan></text>
<text x="134" y="265.2" class="dt" font-size="10.0">Y <tspan fill="#00aeef" stroke="#00aeef" stroke-width="0.25">269</tspan></text>
<text x="134" y="278" class="dt" font-size="10.0">Z <tspan fill="#00aeef" font-weight="bold" stroke="#00aeef" stroke-width="0.35" letter-spacing="-0.08">192,400</tspan></text>
</g>
<g id="panel-d">
<rect x="328" y="240.1" width="212.2" height="168.5" fill="#3d30d0"/>
<rect x="328" y="240.1" width="212.2" height="168.5" fill="#fff" filter="url(#spkd)"/>
<rect x="328.4" y="240.5" width="211.4" height="167.7" fill="none" stroke="#1c1470" stroke-opacity="0.55" stroke-width="0.8"/>
<text x="323.7" y="274.3" class="tk" text-anchor="end">100</text>
<line x1="328" y1="270.9" x2="330" y2="270.9" stroke="#2a2390" stroke-width="0.6"/>
<text x="323.7" y="304.2" class="tk" text-anchor="end">200</text>
<line x1="328" y1="300.8" x2="330" y2="300.8" stroke="#2a2390" stroke-width="0.6"/>
<text x="323.7" y="334.2" class="tk" text-anchor="end">300</text>
<line x1="328" y1="330.8" x2="330" y2="330.8" stroke="#2a2390" stroke-width="0.6"/>
<text x="323.7" y="364.5" class="tk" text-anchor="end">400</text>
<line x1="328" y1="361.1" x2="330" y2="361.1" stroke="#2a2390" stroke-width="0.6"/>
<text x="323.7" y="394.5" class="tk" text-anchor="end">500</text>
<line x1="328" y1="391.1" x2="330" y2="391.1" stroke="#2a2390" stroke-width="0.6"/>
<text x="372.8" y="423" class="tk" text-anchor="middle">50</text>
<line x1="372.8" y1="408.6" x2="372.8" y2="406.6" stroke="#2a2390" stroke-width="0.6"/>
<text x="419" y="423" class="tk" text-anchor="middle">100</text>
<line x1="419" y1="408.6" x2="419" y2="406.6" stroke="#2a2390" stroke-width="0.6"/>
<text x="464.8" y="423" class="tk" text-anchor="middle">150</text>
<line x1="464.8" y1="408.6" x2="464.8" y2="406.6" stroke="#2a2390" stroke-width="0.6"/>
<text x="510.2" y="423" class="tk" text-anchor="middle">200</text>
<line x1="510.2" y1="408.6" x2="510.2" y2="406.6" stroke="#2a2390" stroke-width="0.6"/>
<text transform="translate(302,324.15) rotate(-90)" class="lb" style="font-size:12.0px;word-spacing:-2.0px" text-anchor="middle">Range Cell</text>
<text x="433.7" y="438.6" class="lb" style="font-size:11.7px;word-spacing:-1.3px" text-anchor="middle">Azimuth Doppler Cell</text>
<rect x="451.5" y="242.6" width="17.66" height="14.06" fill="#3e2ec8"/>
<rect x="468.86" y="242.6" width="17.66" height="14.06" fill="#4032d2"/>
<rect x="486.22" y="242.6" width="17.66" height="14.06" fill="#3854f5"/>
<rect x="503.58" y="242.6" width="17.66" height="14.06" fill="#403ae1"/>
<rect x="520.94" y="242.6" width="17.66" height="14.06" fill="#3e2ec8"/>
<rect x="451.5" y="256.36" width="17.66" height="14.06" fill="#4036dc"/>
<rect x="468.86" y="256.36" width="17.66" height="14.06" fill="#3e2ecd"/>
<rect x="486.22" y="256.36" width="17.66" height="14.06" fill="#1482fa"/>
<rect x="503.58" y="256.36" width="17.66" height="14.06" fill="#3c50f5"/>
<rect x="520.94" y="256.36" width="17.66" height="14.06" fill="#4034d7"/>
<rect x="451.5" y="270.12" width="17.66" height="14.06" fill="#3e54f5"/>
<rect x="468.86" y="270.12" width="17.66" height="14.06" fill="#1296f5"/>
<rect x="486.22" y="270.12" width="17.66" height="14.06" fill="#faf914"/>
<rect x="503.58" y="270.12" width="17.66" height="14.06" fill="#0eb9b4"/>
<rect x="520.94" y="270.12" width="17.66" height="14.06" fill="#286efa"/>
<rect x="451.5" y="283.88" width="17.66" height="14.06" fill="#3e2cc8"/>
<rect x="468.86" y="283.88" width="17.66" height="14.06" fill="#4036dc"/>
<rect x="486.22" y="283.88" width="17.66" height="14.06" fill="#1c78fa"/>
<rect x="503.58" y="283.88" width="17.66" height="14.06" fill="#3e4cf2"/>
<rect x="520.94" y="283.88" width="17.66" height="14.06" fill="#4032d4"/>
<rect x="451.5" y="297.64" width="17.66" height="14.06" fill="#3c28be"/>
<rect x="468.86" y="297.64" width="17.66" height="14.06" fill="#3e2cc6"/>
<rect x="486.22" y="297.64" width="17.66" height="14.06" fill="#3854f5"/>
<rect x="503.58" y="297.64" width="17.66" height="14.06" fill="#4038de"/>
<rect x="520.94" y="297.64" width="17.66" height="14.06" fill="#3e2cc6"/>
<rect x="451.5" y="242.6" width="86.8" height="68.8" fill="none" stroke="#fff" stroke-opacity="0.75" stroke-width="0.7"/>
<text x="448.3" y="254.7" class="tk" style="fill:#fff;stroke:#fff;stroke-width:0.2px;font-size:10.0px" text-anchor="end">267</text>
<text x="448.3" y="281.6" class="tk" style="fill:#fff;stroke:#fff;stroke-width:0.2px;font-size:10.0px" text-anchor="end">269</text>
<text x="448.3" y="307.9" class="tk" style="fill:#fff;stroke:#fff;stroke-width:0.2px;font-size:10.0px" text-anchor="end">271</text>
<text x="460.2" y="324.2" class="tk" style="fill:#fff;stroke:#fff;stroke-width:0.2px;font-size:10.0px" text-anchor="middle">117</text>
<text x="494.5" y="324.2" class="tk" style="fill:#fff;stroke:#fff;stroke-width:0.2px;font-size:10.0px" text-anchor="middle">119</text>
<text x="528.9" y="324.2" class="tk" style="fill:#fff;stroke:#fff;stroke-width:0.2px;font-size:10.0px" text-anchor="middle">121</text>
<ellipse cx="436.1" cy="320.8" rx="12.2" ry="6.9" fill="none" stroke="#fff" stroke-width="1.6"/>
<rect x="435.2" y="319.9" width="1.8" height="1.8" fill="#2a86f0"/>
</g>
<g id="captions">
<text transform="translate(129.9,229.8) scale(0.89,1)" class="cap" text-anchor="middle">(<tspan font-weight="bold">a</tspan>)</text>
<text transform="translate(415.9,230.0) scale(0.91,1)" class="cap" text-anchor="middle">(<tspan font-weight="bold">b</tspan>)</text>
<text transform="translate(130.1,463.8) scale(0.89,1)" class="cap" text-anchor="middle">(<tspan font-weight="bold">c</tspan>)</text>
<text transform="translate(415.9,463.8) scale(0.91,1)" class="cap" text-anchor="middle">(<tspan font-weight="bold">d</tspan>)</text>
</g>
</svg>
</body></html>
